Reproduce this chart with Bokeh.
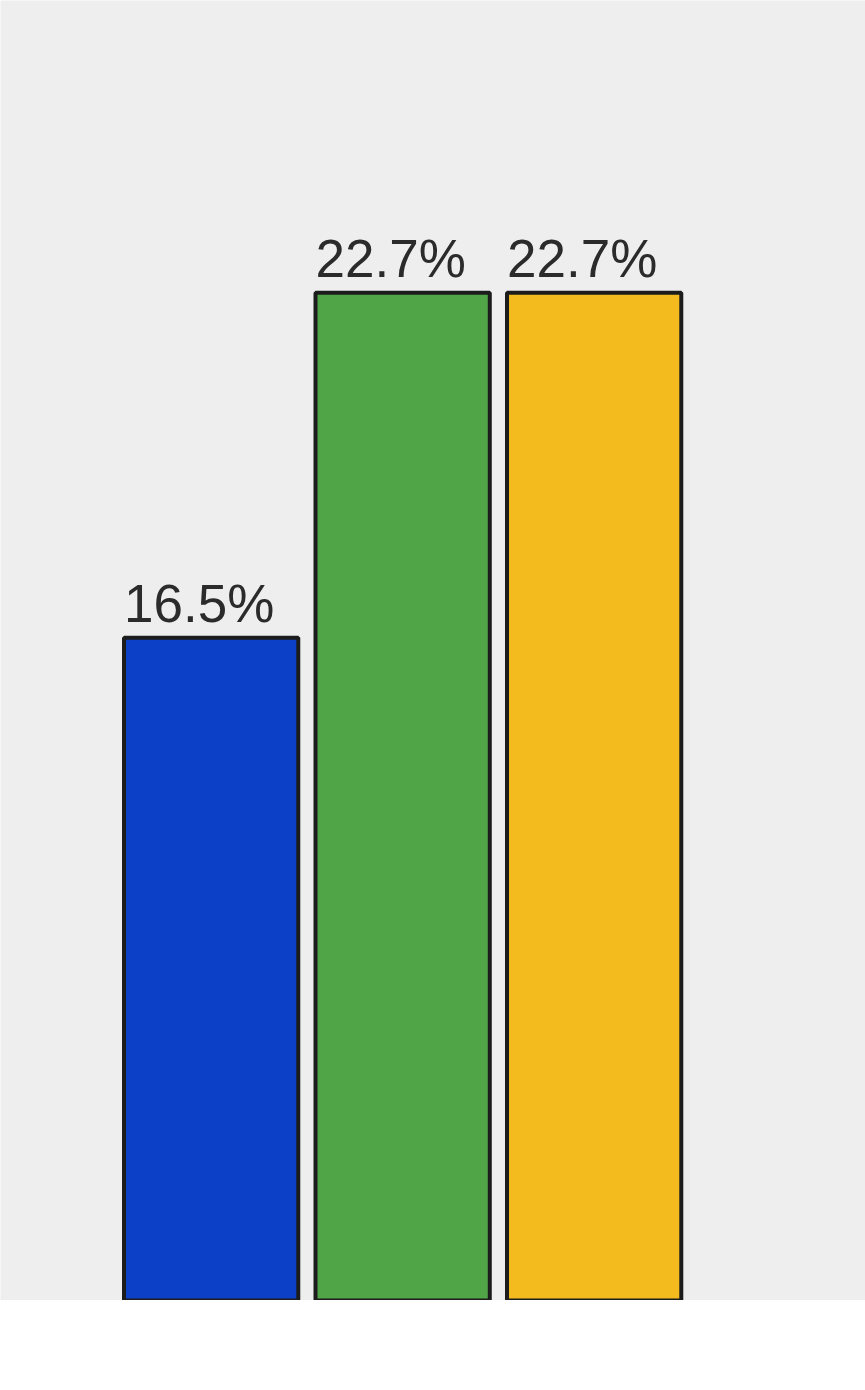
from bokeh.plotting import figure
from bokeh.models import ColumnDataSource, Range1d
from bokeh.core.properties import value
from bokeh.embed import file_html
from bokeh.resources import INLINE

# Data
categories = ["A", "B", "C"]
positions = [1, 2, 3]
values = [16.5, 22.7, 22.7]
labels = ["16.5%", "22.7%", "22.7%"]
colors = ["#0c40c6", "#50a546", "#f3bb1e"]

src = ColumnDataSource(dict(cat=categories, x=positions, v=values,
                            lab=labels, col=colors))

p = figure(width=865, height=1300, output_backend="svg", toolbar_location=None,
           x_range=Range1d(-0.100, 4.417), y_range=Range1d(4.59, 27.95),
           min_border=0)
p.background_fill_color = "#eeeeee"
p.border_fill_color = "#eeeeee"
p.outline_line_color = None
p.axis.visible = False
p.grid.visible = False

p.vbar(x="x", top="v", bottom=0, width=0.91, fill_color="col",
       line_color="#1c1c1c", line_width=4, source=src)

p.text(x="x", y="v", text="lab", source=src, text_align="center",
       text_baseline="alphabetic", y_offset=-34, x_offset=-12,
       text_font=value("Liberation Sans"), text_font_size="53px",
       text_color="#2b2b2b")

open("out.html", "w").write(file_html(p, INLINE))
